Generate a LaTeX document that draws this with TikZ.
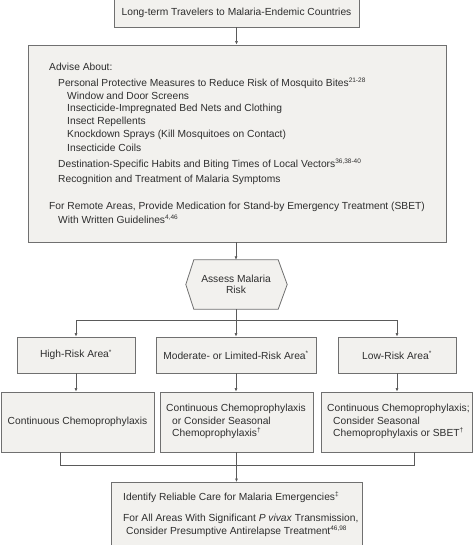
\documentclass[tikz,border=0pt]{standalone}
\usepackage{fontspec}
\setmainfont{Liberation Sans}
\usetikzlibrary{arrows.meta}
\definecolor{boxfill}{HTML}{F2F1EE}
\definecolor{boxline}{HTML}{707070}
\definecolor{linecol}{HTML}{5A5A5A}
\definecolor{txt}{HTML}{2E2E2E}
\newcommand{\sps}[1]{\textsuperscript{\fontsize{6.5}{7}\selectfont #1}}
\begin{document}
\begin{tikzpicture}[x=1pt,y=-1pt,
  box/.style={draw=boxline, fill=boxfill, line width=0.8pt, inner sep=0pt, text=txt,
              font=\fontsize{10.25}{12}\selectfont},
  lbl/.style={text=txt, font=\fontsize{10.25}{12}\selectfont, inner sep=0pt, anchor=west},
  conn/.style={draw=linecol, line width=0.6pt},
  arr/.style={conn, -{Latex[length=3.5pt,width=3pt]}}]
\useasboundingbox (0,0) rectangle (474,545);

% top box
\node[box, minimum width=245, minimum height=28] (top) at (236.5,13) {Long-term Travelers to Malaria-Endemic Countries};

% advise box
\node[box, minimum width=418, minimum height=197] (advise) at (237,143.5) {};
\node[lbl] (a1) at (49,67) {Advise About:};
\node[lbl] (a2) at (58,83) {Personal Protective Measures to Reduce Risk of Mosquito Bites\sps{21-28}};
\node[lbl] (a3) at (67,96) {Window and Door Screens};
\node[lbl] (a4) at (67,109) {Insecticide-Impregnated Bed Nets and Clothing};
\node[lbl] (a5) at (67,122) {Insect Repellents};
\node[lbl] (a6) at (67,135) {Knockdown Sprays (Kill Mosquitoes on Contact)};
\node[lbl] (a7) at (67,148) {Insecticide Coils};
\node[lbl] (a8) at (58,164) {Destination-Specific Habits and Biting Times of Local Vectors\sps{36,38-40}};
\node[lbl] (a9) at (58,180) {Recognition and Treatment of Malaria Symptoms};
\node[lbl] (a10) at (49,207) {For Remote Areas, Provide Medication for Stand-by Emergency Treatment (SBET)};
\node[lbl] (a11) at (58,219) {With Written Guidelines\sps{4,46}};

% hexagon
\node[inner sep=0pt, minimum width=84, minimum height=49] (assess) at (236,284.5) {};
\draw[draw=boxline, fill=boxfill, line width=0.8pt] (assess.north west) -- (assess.north east)
  -- ([xshift=9pt]assess.east) -- (assess.south east) -- (assess.south west)
  -- ([xshift=-8pt]assess.west) -- cycle;
\node[inner sep=0pt, text=txt, align=center, font=\fontsize{10.25}{11.5}\selectfont] (assesstxt) at (assess.center) {Assess Malaria\\Risk};

% row 2
\node[box, minimum width=118, minimum height=36] (high) at (76,355) {High-Risk Area\sps{*}};
\node[box, minimum width=160, minimum height=36] (mod) at (236,355) {Moderate- or Limited-Risk Area\sps{*}};
\node[box, minimum width=118, minimum height=36] (low) at (397,355) {Low-Risk Area\sps{*}};

% row 3
\node[box, minimum width=153, minimum height=60] (cont) at (77.5,422) {Continuous Chemoprophylaxis};
\node[box, minimum width=153, minimum height=60] (seas) at (236.5,422) {};
\node[lbl] (s1) at (166,409) {Continuous Chemoprophylaxis};
\node[lbl] (s2) at (172,421) {or Consider Seasonal};
\node[lbl] (s3) at (172,433) {Chemoprophylaxis\sps{†}};
\node[box, minimum width=151, minimum height=60] (sbet) at (396.5,422) {};
\node[lbl] (b1) at (327,409) {Continuous Chemoprophylaxis;};
\node[lbl] (b2) at (333,421) {Consider Seasonal};
\node[lbl] (b3) at (333,433) {Chemoprophylaxis or SBET\sps{†}};

% bottom box
\node[box, minimum width=251, minimum height=80, anchor=north] (care) at (236.5,482) {};
\node[lbl] (c1) at (123,497) {Identify Reliable Care for Malaria Emergencies\sps{‡}};
\node[lbl] (c2) at (123,519) {For All Areas With Significant \textit{P vivax} Transmission,};
\node[lbl] (c3) at (126,531) {Consider Presumptive Antirelapse Treatment\sps{46,98}};

% connectors
\coordinate (hl) at (76,320);
\coordinate (hr) at (397,320);
\coordinate (ll) at (60,465);
\coordinate (lr) at (414,465);
\draw[arr] (top.south) -- (top.south |- advise.north);
\draw[arr] (advise.south -| assess.north) -- (assess.north);
\draw[arr] (assess.south) -- (assess.south |- mod.north);
\draw[conn] (hl) -- (hr);
\draw[arr] (hl) -- (high.north);
\draw[arr] (hr) -- (low.north);
\draw[arr] (high.south) -- (high.south |- cont.north);
\draw[arr] (mod.south) -- (mod.south |- seas.north);
\draw[arr] (low.south) -- (low.south |- sbet.north);
\draw[conn] (cont.south -| ll) -- (ll) -- (lr) -- (sbet.south -| lr);
\draw[arr] (seas.south) -- (seas.south |- care.north);
\end{tikzpicture}
\end{document}
